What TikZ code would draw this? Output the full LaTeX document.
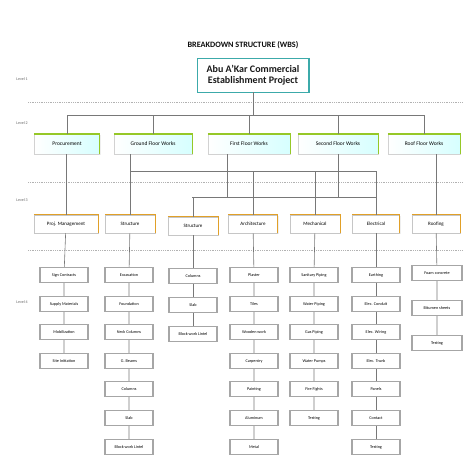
\documentclass[tikz,border=0pt]{standalone}
\usepackage{fontspec}
\setmainfont{Carlito}
\usetikzlibrary{shadows}
\definecolor{lime}{RGB}{150,200,40}
\definecolor{gold}{RGB}{225,160,40}
\definecolor{tealb}{RGB}{60,170,170}
\definecolor{linec}{RGB}{120,120,120}
\begin{document}
\begin{tikzpicture}[x=1pt,y=-1pt,
  conn/.style={draw=linec,line width=0.6pt},
  sep/.style={draw=gray!60,line width=0.5pt,dash pattern=on 1pt off 0.8pt},
  lvlabel/.style={font=\fontsize{4}{5}\selectfont,text=gray!80!black},
  rootbox/.style={rectangle,draw=tealb,line width=0.5pt,fill=white,minimum width=112pt,minimum height=34pt,align=center,font=\fontsize{10}{11.5}\selectfont\bfseries,text=gray!20!black,drop shadow={opacity=0.2,shadow xshift=1pt,shadow yshift=-1pt}},
  ltwo/.style={rectangle,draw=gray!35,line width=0.4pt,left color=white,right color=cyan!16,minimum height=20pt,font=\fontsize{5.5}{6}\selectfont,inner sep=1pt,drop shadow={opacity=0.12,shadow xshift=1pt,shadow yshift=-1pt}},
  lthree/.style={rectangle,draw=gray!45,line width=0.5pt,fill=white,minimum height=18pt,font=\fontsize{5}{6}\selectfont,inner sep=1pt,drop shadow={opacity=0.12,shadow xshift=1pt,shadow yshift=-1pt}},
  lfour/.style={rectangle,draw=gray!70,line width=1.1pt,fill=white,minimum width=48pt,minimum height=15pt,font=\fontsize{4.2}{5}\selectfont,inner sep=0.5pt,drop shadow={opacity=0.2,color=tealb,shadow xshift=0.7pt,shadow yshift=-0.7pt}},
  limeedge/.style={draw=lime,line width=1.4pt},
  goldedge/.style={draw=gold,line width=1.4pt}
]
\useasboundingbox[fill=white] (0,0) rectangle (474,474);

% title and level labels
\node[font=\fontsize{8.2}{9}\selectfont\bfseries,text=gray!10!black] (title) at (243,45) {BREAKDOWN STRUCTURE (WBS)};
\node[lvlabel] (lv1) at (22,79) {Level 1};
\node[lvlabel] (lv2) at (22,123) {Level 2};
\node[lvlabel] (lv3) at (22,200) {Level 3};
\node[lvlabel] (lv4) at (22,302) {Level 4};

% separators
\coordinate (s1l) at (28,102); \coordinate (s1r) at (462,102);
\coordinate (s2l) at (28,182); \coordinate (s2r) at (462,182);
\coordinate (s3l) at (28,250); \coordinate (s3r) at (462,250);
\draw[sep] (s1l) -- (s1r);
\draw[sep] (s2l) -- (s2r);
\draw[sep] (s3l) -- (s3r);

% root
\node[rootbox] (root) at (253,75) {Abu A'Kar Commercial\\Establishment Project};
\draw[draw=tealb,line width=1.6pt] (root.north east) -- (root.south east);

% level 2
\node[ltwo,minimum width=65pt] (proc) at (67,144) {Procurement};
\node[ltwo,minimum width=78pt] (gfw) at (153,144) {Ground Floor Works};
\node[ltwo,minimum width=82pt] (ffw) at (249,144) {First Floor Works};
\node[ltwo,minimum width=80pt] (sfw) at (338,144) {Second Floor Works};
\node[ltwo,minimum width=72pt] (rfw) at (424,144) {Roof Floor Works};
\foreach \n in {proc,gfw,ffw,sfw,rfw}{
  \draw[limeedge] (\n.north west) -- (\n.north east) -- (\n.south east);
}

% level 3
\node[lthree,minimum width=64pt] (pm) at (66,224) {Proj. Management};
\node[lthree,minimum width=50pt] (sa) at (130,224) {Structure};
\node[lthree,minimum width=50pt] (sb) at (193,226) {Structure};
\node[lthree,minimum width=49pt] (arch) at (253,224) {Architecture};
\node[lthree,minimum width=50pt] (mech) at (315,224) {Mechanical};
\node[lthree,minimum width=47pt] (elec) at (376,224) {Electrical};
\node[lthree,minimum width=48pt] (roof) at (436,224) {Roofing};
\foreach \n in {pm,sa,sb,arch,mech,elec,roof}{
  \draw[goldedge] (\n.north west) -- (\n.north east) -- (\n.south east);
}

% level 1 -> level 2 connectors
\coordinate (busL) at (67,115);
\coordinate (busR) at (424,115);
\draw[conn] (root.south) -- (root.south |- busL);
\draw[conn] (busL) -- (busR);
\foreach \n in {proc,gfw,ffw,sfw,rfw}{
  \draw[conn] (\n.north |- busL) -- (\n.north);
}

% level 2 -> level 3 connectors
\draw[conn] (pm.north |- proc.south) -- (pm.north);
\coordinate (busA) at (130,171);
\coordinate (busAr) at (376,171);
\draw[conn] (sa.north |- gfw.south) -- (sa.north);
\draw[conn] (busA) -- (busAr);
\draw[conn] (arch.north |- busA) -- (arch.north);
\draw[conn] (mech.north |- busA) -- (mech.north);
\draw[conn] (elec.north |- busA) -- (elec.north);
\coordinate (busB) at (192,197);
\coordinate (busBr) at (376,197);
\coordinate (ffwdrop) at (227,197);
\draw[conn] (ffwdrop |- ffw.south) -- (ffwdrop);
\draw[conn] (sfw.south) -- (sfw.south |- busB);
\draw[conn] (busB) -- (busBr);
\draw[conn] (sb.north |- busB) -- (sb.north);
\draw[conn] (roof.north |- rfw.south) -- (roof.north);

% level 4
\node[lfour] (a1) at (64,275) {Sign Contracts};
\node[lfour] (a2) at (64,304) {Supply Materials};
\node[lfour] (a3) at (64,332) {Mobilization};
\node[lfour] (a4) at (64,361) {Site Initiation};

\node[lfour] (b1) at (129,275) {Excavation};
\node[lfour] (b2) at (129,304) {Foundation};
\node[lfour] (b3) at (129,332) {Neck Columns};
\node[lfour] (b4) at (129,361) {G. Beams};
\node[lfour] (b5) at (129,389) {Columns};
\node[lfour] (b6) at (129,418) {Slab};
\node[lfour] (b7) at (129,447) {Block work Lintel};

\node[lfour] (c1) at (193,276) {Columns};
\node[lfour] (c2) at (193,305) {Slab};
\node[lfour] (c3) at (193,334) {Block work Lintel};

\node[lfour] (d1) at (254,275) {Plaster};
\node[lfour] (d2) at (254,304) {Tiles};
\node[lfour] (d3) at (254,332) {Wooden work};
\node[lfour] (d4) at (254,361) {Carpentry};
\node[lfour] (d5) at (254,389) {Painting};
\node[lfour] (d6) at (254,418) {Aluminum};
\node[lfour] (d7) at (254,447) {Metal};

\node[lfour] (e1) at (314,275) {Sanitary Piping};
\node[lfour] (e2) at (314,304) {Water Piping};
\node[lfour] (e3) at (314,332) {Gas Piping};
\node[lfour] (e4) at (314,361) {Water Pumps};
\node[lfour] (e5) at (314,389) {Fire Fights};
\node[lfour] (e6) at (314,418) {Testing};

\node[lfour] (f1) at (376,275) {Earthing};
\node[lfour] (f2) at (376,304) {Elec. Conduit};
\node[lfour] (f3) at (376,332) {Elec. Wiring};
\node[lfour] (f4) at (376,361) {Elec. Trunk};
\node[lfour] (f5) at (376,389) {Panels};
\node[lfour] (f6) at (376,418) {Contact};
\node[lfour] (f7) at (376,447) {Testing};

\node[lfour,minimum width=50pt] (g1) at (437,273) {Foam concrete};
\node[lfour,minimum width=50pt] (g2) at (437,308) {Bitumen sheets};
\node[lfour,minimum width=50pt] (g3) at (437,343) {Testing};

% level 3 -> level 4 chains
\draw[conn] (pm) -- (a1) -- (a2) -- (a3) -- (a4);
\draw[conn] (sa) -- (b1) -- (b2) -- (b3) -- (b4) -- (b5) -- (b6) -- (b7);
\draw[conn] (sb) -- (c1) -- (c2) -- (c3);
\draw[conn] (arch) -- (d1) -- (d2) -- (d3) -- (d4) -- (d5) -- (d6) -- (d7);
\draw[conn] (mech) -- (e1) -- (e2) -- (e3) -- (e4) -- (e5) -- (e6);
\draw[conn] (elec) -- (f1) -- (f2) -- (f3) -- (f4) -- (f5) -- (f6) -- (f7);
\draw[conn] (roof) -- (g1) -- (g2) -- (g3);
\end{tikzpicture}
\end{document}
